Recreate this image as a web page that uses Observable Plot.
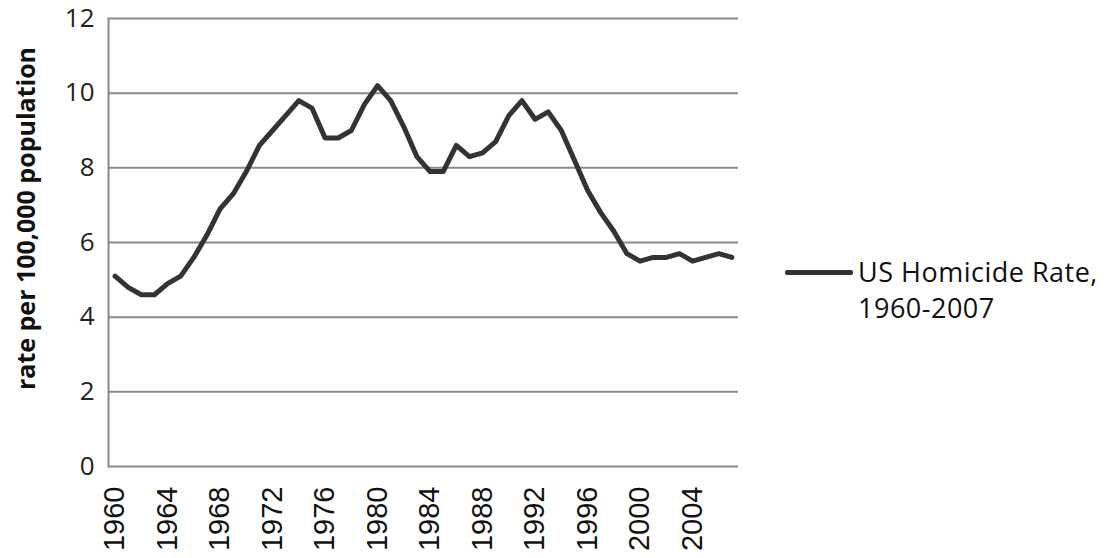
<!DOCTYPE html>
<html>
<head>
<meta charset="utf-8">
<script src="https://cdn.jsdelivr.net/npm/d3@7"></script>
<script src="https://cdn.jsdelivr.net/npm/@observablehq/plot@0.6"></script>
<style>
  html, body { margin: 0; padding: 0; background: #fff; }
  #wrap { position: relative; width: 1110px; height: 558px; overflow: hidden; }
  #legend { position: absolute; left: 785px; top: 254px; font-family: "Open Sans", sans-serif; font-size: 27px; letter-spacing: 0.5px; color: #111; line-height: 36px; display: flex; align-items: flex-start; }
  #legend .sw { display: inline-block; width: 68px; height: 5px; background: #333; margin-top: 16px; margin-right: 5px; border-radius: 2px; flex: none; }
</style>
</head>
<body>
<div id="wrap"><div id="legend"><span class="sw"></span><span>US Homicide Rate,<br>1960-2007</span></div></div>
<script>
const years = d3.range(1960, 2008);
const rates = [5.1, 4.8, 4.6, 4.6, 4.9, 5.1, 5.6, 6.2, 6.9, 7.3,
               7.9, 8.6, 9.0, 9.4, 9.8, 9.6, 8.8, 8.8, 9.0, 9.7,
               10.2, 9.8, 9.1, 8.3, 7.9, 7.9, 8.6, 8.3, 8.4, 8.7,
               9.4, 9.8, 9.3, 9.5, 9.0, 8.2, 7.4, 6.8, 6.3, 5.7,
               5.5, 5.6, 5.6, 5.7, 5.5, 5.6, 5.7, 5.6];
const xTicks = [1960, 1964, 1968, 1972, 1976, 1980, 1984, 1988, 1992, 1996, 2000, 2004];
const yTicks = [0, 2, 4, 6, 8, 10, 12];
const yLabel = "rate per 100,000 population";
const seriesName = "US Homicide Rate, 1960-2007";

const data = years.map((y, i) => ({year: y, rate: rates[i]}));

const chart = Plot.plot({
  width: 1110,
  height: 558,
  marginLeft: 108,
  marginRight: 372,
  marginTop: 18,
  marginBottom: 92,
  style: {background: "transparent", overflow: "visible"},
  x: {domain: [1959.5, 2007.5]},
  y: {domain: [0, 12]},
  marks: [
    Plot.gridY(yTicks, {stroke: "#8a8a8a", strokeOpacity: 1, strokeWidth: 2}),
    Plot.frame({anchor: "left", stroke: "#8a8a8a", strokeWidth: 2}),
    Plot.axisY({ticks: yTicks, tickSize: 0, tickPadding: 14, fontSize: 26, label: null,
                fontFamily: "'Open Sans', sans-serif", fill: "#222"}),
    Plot.axisX({ticks: xTicks, tickFormat: d => String(d), tickSize: 0, tickPadding: 20, tickRotate: -90,
                fontSize: 29, label: null, fontFamily: "'Liberation Sans', Arial, sans-serif", fill: "#111"}),
    Plot.text([yLabel], {frameAnchor: "left", textAnchor: "middle", rotate: -90, dx: -82, dy: -24, fontSize: 25, fontWeight: "bold",
                fontFamily: "'Open Sans', sans-serif", fill: "#111"}),
    Plot.lineY(data, {x: "year", y: "rate", stroke: "#333", strokeWidth: 5, strokeLinejoin: "round", strokeLinecap: "round"})
  ]
});
document.getElementById("wrap").prepend(chart);
</script>
</body>
</html>
